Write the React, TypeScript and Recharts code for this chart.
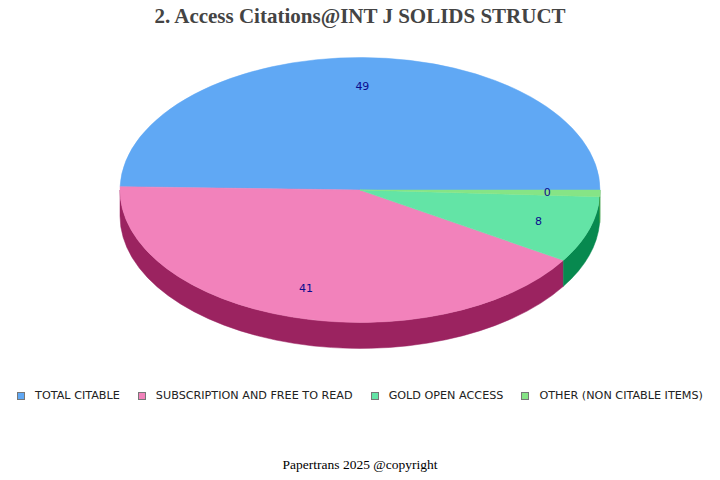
import React from 'react';
import { PieChart, Pie, Cell } from 'recharts';

// Values
const categories = ['TOTAL CITABLE', 'SUBSCRIPTION AND FREE TO READ', 'GOLD OPEN ACCESS', 'OTHER (NON CITABLE ITEMS)'];
const citations = [49, 41, 8, 0.8];
const topColors = ['#60a8f4', '#f282bb', '#63e4a6', '#86e486'];
const sideColors = ['#2f6fb5', '#9b2360', '#07894f', '#3d9e3d'];

const chartData = categories.map((name, i) => ({ name, value: citations[i] }));

const RY = 0.552; // vertical squash of the tilted pie
const DEPTH = 26;

const pt = (cx: number, cy: number, r: number, a: number) => {
  const rad = (-a * Math.PI) / 180;
  return [cx + r * Math.cos(rad), cy + r * RY * Math.sin(rad)];
};

const Slice3D = (props: any) => {
  const { cx, cy, outerRadius: r, startAngle, endAngle, index } = props;
  const fill = topColors[index % topColors.length];
  const side = sideColors[index % sideColors.length];
  const lo = Math.min(startAngle, endAngle);
  const hi = Math.max(startAngle, endAngle);
  const [sx, sy] = pt(cx, cy, r, lo);
  const [ex, ey] = pt(cx, cy, r, hi);
  const large = hi - lo > 180 ? 1 : 0;
  const top = `M${cx},${cy} L${sx},${sy} A${r},${r * RY} 0 ${large} 0 ${ex},${ey} Z`;

  // front wall: part of the arc facing the viewer (180..360)
  const a = Math.max(lo, 180);
  const b = Math.min(hi, 360);
  let wall = null;
  if (b > a) {
    const [ax, ay] = pt(cx, cy, r, a);
    const [bx, by] = pt(cx, cy, r, b);
    const l2 = b - a > 180 ? 1 : 0;
    const d = `M${ax},${ay} A${r},${r * RY} 0 ${l2} 0 ${bx},${by} L${bx},${by + DEPTH} A${r},${r * RY} 0 ${l2} 1 ${ax},${ay + DEPTH} Z`;
    wall = <path d={d} fill={side} stroke={side} strokeWidth={0.5} />;
  }
  return (
    <g>
      {wall}
      <path d={top} fill={fill} stroke={fill} strokeWidth={0.5} />
    </g>
  );
};

const renderLabel = (props: any) => {
  const { cx, cy, midAngle, outerRadius, value } = props;
  const [x, y] = pt(cx, cy, outerRadius * 0.78, midAngle);
  return (
    <text x={x} y={y} fill="#0b0b8f" fontSize={11} fontFamily="DejaVu Sans, sans-serif" textAnchor="middle" dominantBaseline="central">
      {Math.trunc(value)}
    </text>
  );
};

export default function App() {
  return (
    <div style={{ position: 'absolute', left: 0, top: 0, width: 720, height: 480, background: '#fff' }}>
      <div style={{ position: 'absolute', top: 4, width: 720, textAlign: 'center', fontFamily: '"Liberation Serif", serif', fontWeight: 'bold', fontSize: 21, color: '#444' }}>
        2. Access Citations@INT J SOLIDS STRUCT
      </div>
      <PieChart width={720} height={480} margin={{ top: 0, right: 0, bottom: 0, left: 0 }}>
        <Pie
          data={chartData}
          dataKey="value"
          nameKey="name"
          cx={360}
          cy={190}
          outerRadius={240}
          startAngle={0}
          endAngle={360}
          shape={Slice3D}
          activeShape={Slice3D}
          inactiveShape={Slice3D}
          label={renderLabel}
          labelLine={false}
          isAnimationActive={false}
        >
          {chartData.map((entry, index) => (
            <Cell key={`cell-${index}`} fill={topColors[index]} />
          ))}
        </Pie>
      </PieChart>
      <div style={{ position: 'absolute', top: 389, left: 0, width: 720, display: 'flex', justifyContent: 'center', gap: 18, fontFamily: 'DejaVu Sans, sans-serif', fontSize: 11.2, color: '#222' }}>
        {categories.map((name, i) => (
          <div key={name} style={{ display: 'flex', alignItems: 'center' }}>
            <span style={{ width: 6, height: 6, background: topColors[i], border: '1px solid #777', marginRight: 10, display: 'inline-block' }} />
            <span>{name}</span>
          </div>
        ))}
      </div>
      <div style={{ position: 'absolute', top: 457, width: 720, textAlign: 'center', fontFamily: '"Liberation Serif", serif', fontSize: 13.5, color: '#000' }}>
        Papertrans 2025 @copyright
      </div>
    </div>
  );
}
